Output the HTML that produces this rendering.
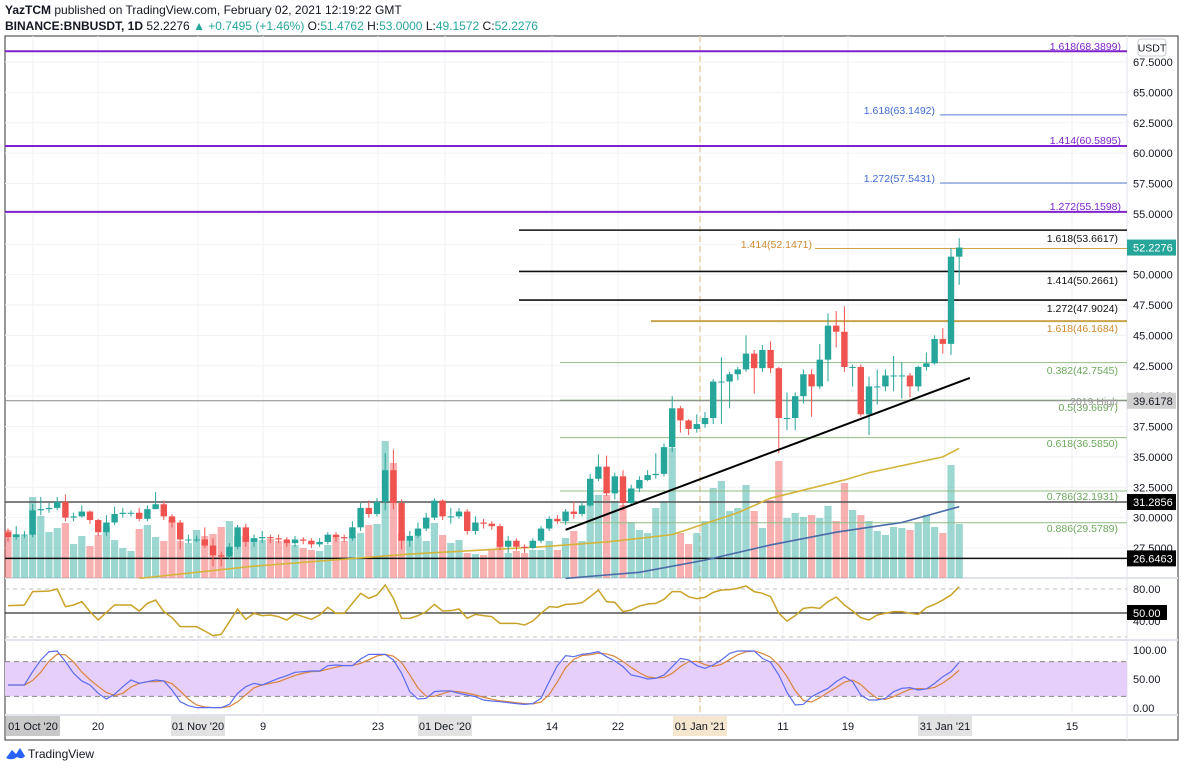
<!DOCTYPE html>
<html><head><meta charset="utf-8">
<style>
html,body{margin:0;padding:0;background:#fff;width:1185px;height:768px;overflow:hidden;font-family:"Liberation Sans",sans-serif}
#hdr{position:absolute;left:5px;top:2px;font-size:12px;color:#131722;line-height:16px}
#hdr .v{color:#26a69a}
svg{position:absolute;left:0;top:0}
text{font-family:"Liberation Sans",sans-serif}
</style></head>
<body>
<div id="hdr">
<div><b>YazTCM</b> published on TradingView.com, February 02, 2021 12:19:22 GMT</div>
<div><b>BINANCE:BNBUSDT, 1D</b> 52.2276 <span class="v">▲ +0.7495 (+1.46%)</span> O:<span class="v">51.4762</span> H:<span class="v">53.0000</span> L:<span class="v">49.1572</span> C:<span class="v">52.2276</span></div>
</div>
<svg id="chart" width="1185" height="768"></svg>
<script>
const closes=[28.4,28.6,28.6,30.6,30.7,30.8,31.3,30.0,30.1,30.5,29.8,28.8,29.6,30.3,30.4,30.4,29.9,30.7,31.1,30.1,29.6,28.2,28.2,28.2,27.7,26.9,26.8,27.6,29.2,28.0,28.3,28.4,28.3,28.2,27.9,28.2,28.1,27.8,28.0,28.6,
28.4,28.3,29.2,30.8,30.3,31.3,33.9,31.2,28.1,28.5,29.1,30.0,31.4,30.1,30.1,30.5,28.9,29.6,29.5,29.3,27.6,28.1,27.6,27.5,28.1,
29.1,29.9,29.7,30.5,30.3,31.0,33.2,34.2,32.0,33.4,31.2,32.4,33.1,33.5,33.6,35.8,39.0,38.0,37.3,37.7,38.2,41.2,41.2,41.8,42.2,43.5,42.3,43.8,42.3,38.2,38.2,40.0,41.8,40.8,43.0,45.8,45.3,42.4,42.4,38.5,40.8,40.8,41.7,41.7,41.7,40.8,42.4,42.7,44.7,44.3,51.48,52.23];
const firstOpen=28.8;
const highs=[29.1,29.3,28.9,31.1,31.7,31.2,31.7,31.9,30.4,31.0,30.6,29.9,30.2,30.9,30.8,30.6,30.8,31.0,32.1,31.4,30.3,29.8,28.6,28.5,29.2,28.3,27.2,27.9,29.4,29.5,28.6,28.9,28.6,28.6,28.4,28.5,28.4,28.3,28.3,28.8,
28.8,28.6,29.7,31.2,31.4,31.6,35.3,35.6,31.5,28.9,29.6,30.4,31.6,31.5,30.8,30.8,30.7,30.1,29.9,29.7,29.5,28.5,28.3,27.8,28.3,
29.3,30.1,30.2,30.7,31.3,31.3,33.6,35.2,35.1,33.7,33.9,32.7,33.4,33.9,35.3,36.1,40.0,39.2,38.1,38.5,38.7,41.4,43.2,42.0,42.4,45.0,43.8,44.2,44.5,42.4,40.3,40.3,42.2,42.2,44.3,46.8,47.0,47.4,42.6,42.6,41.6,42.2,42.2,43.3,42.8,41.9,42.5,43.6,45.0,45.6,52.2,53.0];
const lows=[28.0,28.2,28.3,28.4,30.2,30.4,30.6,29.7,29.7,30.0,29.5,28.5,28.5,29.4,30.0,30.1,29.7,29.7,30.8,29.8,29.2,27.4,27.9,28.0,27.5,26.0,26.0,26.6,27.4,27.6,27.6,27.9,27.9,27.9,27.6,27.6,27.8,27.5,27.6,27.8,
28.0,28.0,28.1,28.9,30.0,30.1,30.6,30.7,27.4,27.6,28.3,28.9,29.8,29.8,29.5,29.9,28.6,28.6,29.1,29.0,27.3,27.1,27.3,27.1,27.4,
27.9,28.9,29.5,29.4,29.9,30.1,30.9,33.0,31.8,31.5,30.6,31.0,32.1,33.0,33.2,33.4,35.4,37.0,36.8,37.0,37.4,37.7,37.7,39.0,41.3,42.0,40.2,42.0,41.9,35.3,37.2,37.2,39.4,38.3,40.6,41.2,44.0,42.0,40.8,38.3,36.8,39.3,40.4,40.4,39.8,39.9,40.4,42.1,42.6,43.5,43.4,49.16];
const volumes=[48,44,42,81,62,46,50,55,34,42,32,43,52,38,30,27,49,53,41,37,58,37,35,48,42,44,51,57,42,42,40,38,39,37,35,33,30,28,27,33,
41,37,42,45,53,54,137,115,45,38,42,37,55,43,35,38,25,24,23,28,37,25,27,25,28,
28,37,28,40,47,37,83,83,83,77,73,56,48,45,70,77,130,45,34,45,57,90,97,67,70,93,67,50,78,117,60,65,61,63,60,72,57,95,68,63,57,47,43,51,50,48,55,63,51,45,113,54];
const rsiValues=[59.2,59.6,60,76.7,77,77.5,80,57.9,60,64.2,51.7,41.2,50.8,60,60,60,52.5,62,66.2,51.7,44.2,32.9,32.9,32.9,27.5,21.7,23.3,39.2,55,42.1,49.6,46.7,47.5,45.4,41.2,48.7,45.4,42.1,47.5,57.1,
49.6,49.6,62,74.6,68.3,72.5,85,68.3,43.3,43.3,46.7,51.7,60.8,52.5,52.9,55,43.3,48.3,46.7,45.4,37.1,37.1,37.1,35,40,
49.6,57.9,57.1,60.8,61.2,62.9,70.4,78.7,64.2,63.3,51.7,53.7,58.7,61.2,62,67.1,76.7,76.7,70.4,67.9,69.6,75.8,78.7,79.2,80.8,83.8,76.7,74.6,70.4,49.6,40,46.7,55.8,57.1,55.8,64.2,70,60,52.5,44.2,41.2,47.5,49.6,51.7,51.7,49.6,48.3,56.7,60.8,66.2,72.5,82.9];
const stochK=[39.7,39.7,39.7,62.6,82.8,97,98.3,79.9,59.8,46.6,39.7,25.3,15.5,23.6,36.8,48.3,42.5,45.4,48.3,46.6,31,10.9,4,0.6,0.6,0.6,0.6,6.3,25.3,36.8,42.5,39.7,45.4,51.1,55.7,61.5,62.6,63.8,63.8,73,
74.1,73,73,84.5,92.5,92.5,92.5,82.8,59.8,28.2,15.5,16.7,28.2,29.3,29.3,25.3,22.4,19.5,13.8,12.1,10.9,9.2,7.5,6.3,7.5,
16.7,45.4,73,90.2,88.5,92.5,94.2,97.1,88.5,81,71.3,56.9,54,50,51.2,56.9,71.3,85.6,82.8,73,68.4,74.1,82.8,94.2,98.3,98.3,98.3,85.6,78.7,56.9,27,5.2,6.3,19.5,27,33.9,45.4,54,45.4,22.4,13.8,13.8,16.7,28.2,33.9,35.1,31.1,32.8,42.5,54,62.6,78.7];
// moving averages: [candle index, value]
const maYellowIdx=[16,30,49,65,73,81,89,93,102,105,114,116];
const maYellowVal=[25.0,26.0,27.0,27.6,28.0,28.6,30.4,31.6,33.1,33.7,35.0,35.7];
const maBlueIdx=[68,77,85,93,101,109,116];
const maBlueVal=[25.0,25.5,26.5,27.75,28.8,29.6,30.9];
const priceTicks=[67.5,65,62.5,60,57.5,55,52.5,50,47.5,45,42.5,40,37.5,35,32.5,30,27.5];
const timeLabels=["01 Oct '20","20","01 Nov '20","9","23","01 Dec '20","14","22","01 Jan '21","11","19","31 Jan '21","15"];
const timeLabelX=[33,98,198,263,378,445,552,618,700,783,848,945,1072];

const NS="http://www.w3.org/2000/svg";
const svg=document.getElementById('chart');
function el(tag,attrs,parent){const e=document.createElementNS(NS,tag);for(const k in attrs)e.setAttribute(k,attrs[k]);(parent||svg).appendChild(e);return e;}
const L=5,R=1127,RB=1178,TOP=36,MAINB=578;
const xOf=k=>8+8.2*k;
const yP=p=>62+(67.5-p)*12.15;
const yR=v=>613-(v-50)*0.8;
const yS=v=>708-v*0.58;

// frame
let fr=el('rect',{x:L,y:TOP,width:RB-L,height:740-TOP,fill:'none',stroke:'#555','stroke-width':1.2});


let sep=el('line',{x1:R,y1:TOP,x2:R,y2:740,stroke:'#e0e3eb'});


[[578],[640],[715]].forEach(a=>{let s=el('line',{x1:L,y1:a[0],x2:RB,y2:a[0],stroke:'#e0e3eb','stroke-width':2});});

// grid
priceTicks.forEach(p=>{let g=el('line',{x1:L,y1:yP(p),x2:R,y2:yP(p),stroke:'#f0f2f5'});});
timeLabelX.forEach(x=>{let g=el('line',{x1:x,y1:TOP,x2:x,y2:715,stroke:'#f0f2f5'});});
let jl=el('line',{x1:700,y1:TOP,x2:700,y2:715,stroke:'#e8cfa8','stroke-dasharray':'6,4','stroke-width':1.5});



// volume
const volG=el('g',{});


volumes.forEach((v,k)=>{const o=k?closes[k-1]:firstOpen,c=closes[k];
 let b=el('rect',{x:xOf(k)-3.6,y:MAINB-v,width:7.2,height:v,fill:c>=o?'rgba(38,166,154,0.45)':'rgba(239,83,80,0.45)'},volG);
 
 });

// horizontal levels
function hline(p,x1,color,w,name,dash){let l=el('line',{x1:x1,y1:yP(p),x2:R,y2:yP(p),stroke:color,'stroke-width':w});if(dash)l.setAttribute('stroke-dasharray',dash);}
function lbl(t,x,y,color,name,anchor){let e=el('text',{x:x,y:y,fill:color,'font-size':10.5,'text-anchor':anchor||'end'});e.textContent=t;}
hline(68.3899,L,'#7e22ce',2,'fib-level-68');
hline(60.5895,L,'#7e22ce',2,'fib-level-60');
hline(55.1598,L,'#7e22ce',2,'fib-level-55');
lbl('1.618(68.3899)',1121,50,'#7e22ce','fib-label-68');
lbl('1.414(60.5895)',1121,144,'#7e22ce','fib-label-60');
lbl('1.272(55.1598)',1121,210,'#7e22ce','fib-label-55');
hline(63.1492,940,'#5b7ed6',1,'fib-level-63');
hline(57.5431,940,'#5b7ed6',1,'fib-level-57');
lbl('1.618(63.1492)',935,114,'#3f6ad8','fib-label-63');
lbl('1.272(57.5431)',935,182,'#3f6ad8','fib-label-57');
hline(53.6617,519,'#111',1.6,'fib-level-53');
hline(50.2661,519,'#111',1.6,'fib-level-50');
hline(47.9024,519,'#111',1.6,'fib-level-47');
lbl('1.618(53.6617)',1118,242,'#111','fib-label-53');
lbl('1.414(50.2661)',1118,284,'#111','fib-label-50');
lbl('1.272(47.9024)',1118,312,'#111','fib-label-47');
hline(52.1471,815,'#d4a24a',1,'fib-level-52');
lbl('1.414(52.1471)',812,248,'#d08a30','fib-label-52');
hline(46.1684,651,'#c9a44a',2,'fib-level-46');
lbl('1.618(46.1684)',1118,332,'#d08a30','fib-label-46');
[[42.7545,'0.382(42.7545)',374],[39.6697,'0.5(39.6697)',411],[36.585,'0.618(36.5850)',447],[32.1931,'0.786(32.1931)',500],[29.5789,'0.886(29.5789)',532]].forEach(a=>{hline(a[0],560,'#92bb84',1,'retracement-level');lbl(a[1],1118,a[2],'#6aa85a','retracement-label');});
hline(39.6178,L,'#8a8a8a',1,'2019-high-line');
lbl('2019 High',1118,405,'#999','2019-high-label');
hline(31.2856,L,'#555',1.5,'support-line-31');
hline(26.6463,L,'#111',1.5,'support-line-26');

// moving averages
function maPath(idx,val,color,name){let d=idx.map((k,i)=>(i?'L':'M')+xOf(k)+','+yP(val[i])).join(' ');let p=el('path',{d:d,fill:'none',stroke:color,'stroke-width':1.6});}
maPath(maYellowIdx,maYellowVal,'#d4b53a','moving-average-yellow');
maPath(maBlueIdx,maBlueVal,'#4a6aa8','moving-average-blue');

// candles
const cg=el('g',{});


closes.forEach((c,k)=>{const o=k?closes[k-1]:firstOpen;const col=c>=o?'#26a69a':'#ef5350';const x=xOf(k);
 let w=el('line',{x1:x,y1:yP(highs[k]),x2:x,y2:yP(lows[k]),stroke:col,'stroke-width':1},cg);
 
 
 const top=yP(Math.max(o,c)),bot=yP(Math.min(o,c));
 let b=el('rect',{x:x-3.2,y:top,width:6.4,height:Math.max(1,bot-top),fill:col},cg);
 
 });

// trendline
let tl=el('line',{x1:xOf(68),y1:yP(29.0),x2:xOf(117.3),y2:yP(41.5),stroke:'#000','stroke-width':2});



// price axis
priceTicks.forEach(p=>{let t=el('text',{x:1133,y:yP(p)+4,fill:'#131722','font-size':11});t.textContent=p.toFixed(4);});
let ub=el('rect',{x:1138,y:39,width:28,height:17,rx:3,fill:'#fff',stroke:'#c8cbd3'});


let ut=el('text',{x:1152,y:51.5,'font-size':10.5,'text-anchor':'middle',fill:'#131722'});ut.textContent='USDT';


function tag(p,txt,bg,fg,name){const y=yP(p);let r=el('rect',{x:R,y:y-8,width:49,height:16,fill:bg});let t=el('text',{x:1133,y:y+4,fill:fg,'font-size':11});t.textContent=txt;}
tag(52.2276,'52.2276','#26a69a','#fff','last-price-tag');
tag(39.6178,'39.6178','#d0d0d0','#131722','2019-high-tag');
tag(31.2856,'31.2856','#000','#fff','support-31-tag');
tag(26.6463,'26.6463','#000','#fff','support-26-tag');

// RSI pane
[[80,'#c0c0c0','4,4'],[20,'#c0c0c0','4,4']].forEach(a=>{let l=el('line',{x1:L,y1:yR(a[0]),x2:R,y2:yR(a[0]),stroke:a[1],'stroke-dasharray':a[2]});});
let r50=el('line',{x1:L,y1:yR(50),x2:R,y2:yR(50),stroke:'#333','stroke-width':1.2});


let rp=el('path',{d:rsiValues.map((v,k)=>(k?'L':'M')+xOf(k)+','+yR(v)).join(' '),fill:'none',stroke:'#c9a227','stroke-width':1.5});


[[80,'80.00'],[40,'40.00']].forEach(a=>{let t=el('text',{x:1133,y:yR(a[0])+4,'font-size':11,fill:'#131722'});t.textContent=a[1];});
let r5b=el('rect',{x:R,y:yR(50)-8,width:40,height:15,fill:'#000'});


let r5t=el('text',{x:1133,y:yR(50)+4,'font-size':11,fill:'#fff'});r5t.textContent='50.00';



// Stoch pane
let band=el('rect',{x:L,y:yS(80),width:R-L,height:yS(20)-yS(80),fill:'#e6cffb'});


[80,20].forEach(v=>{let l=el('line',{x1:L,y1:yS(v),x2:R,y2:yS(v),stroke:'#888','stroke-dasharray':'5,4'});});
const stochD=stochK.map((v,k)=>{const a=stochK.slice(Math.max(0,k-2),k+1);return a.reduce((s,x)=>s+x,0)/a.length;});
let sd=el('path',{d:stochD.map((v,k)=>(k?'L':'M')+xOf(k)+','+yS(v)).join(' '),fill:'none',stroke:'#d9853b','stroke-width':1.2});


let sk=el('path',{d:stochK.map((v,k)=>(k?'L':'M')+xOf(k)+','+yS(v)).join(' '),fill:'none',stroke:'#5b6cf0','stroke-width':1.2});


[[100,'100.00'],[50,'50.00'],[0,'0.00']].forEach(a=>{let t=el('text',{x:1133,y:yS(a[0])+4,'font-size':11,fill:'#131722'});t.textContent=a[1];});

// time axis
timeLabels.forEach((t,i)=>{const x=timeLabelX[i];const boxed=t.length>3;
 if(boxed){let b=el('rect',{x:x-27,y:716,width:54,height:20,fill:i==8?'#f5e6cf':(i==0?'#c8c8c8':'#e2e2e2')});}
 let e=el('text',{x:x,y:730,'font-size':11,'text-anchor':'middle',fill:'#131722'});e.textContent=t;
 
 });

// logo
let lg=el('path',{d:'M6 758 L12 750 L16 754 L20 748 L25 756 Q22 760 17 757 Q12 761 6 758 Z',fill:'#2962ff'});


let lt=el('text',{x:28,y:758,'font-size':12,fill:'#131722'});lt.textContent='TradingView';


</script>
</body></html>
